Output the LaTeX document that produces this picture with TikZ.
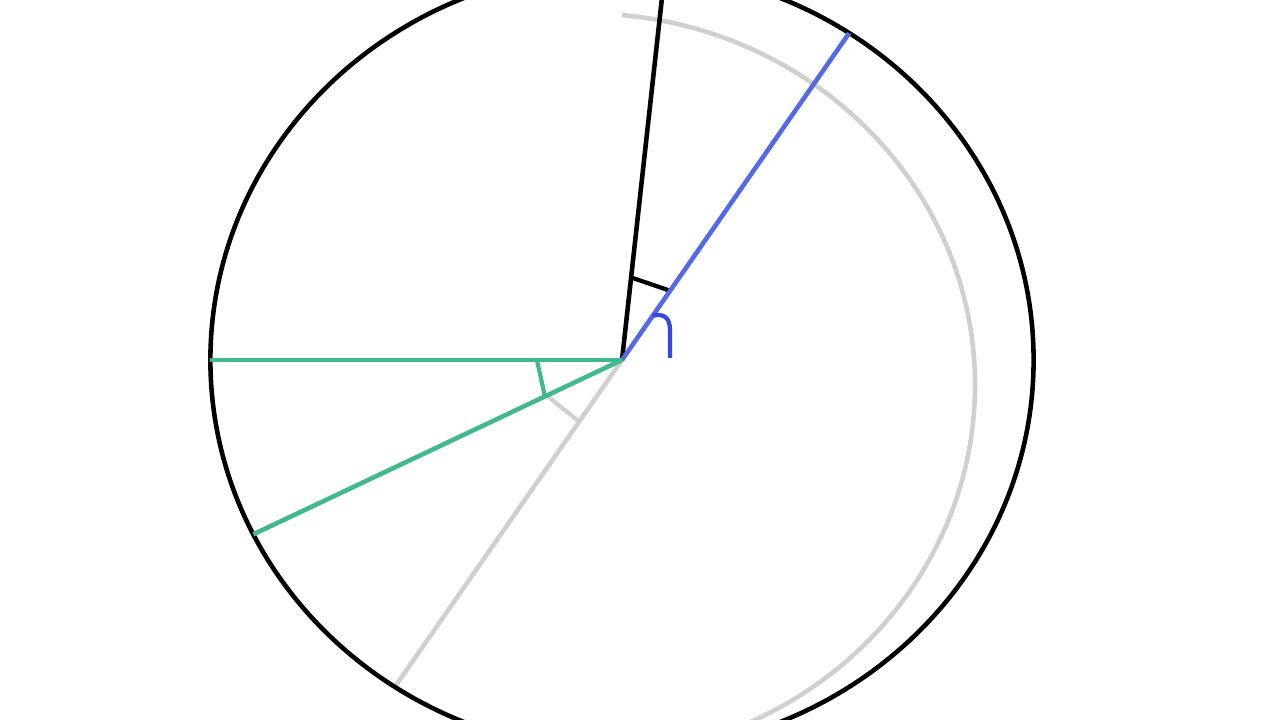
\documentclass[tikz,border=0pt]{standalone}
\definecolor{lineblue}{RGB}{85,105,230}
\definecolor{markblue}{RGB}{55,70,230}
\definecolor{linegreen}{RGB}{65,185,140}
\definecolor{linegray}{RGB}{208,208,208}
\begin{document}
\begin{tikzpicture}[line width=1.3pt, anglemark/.style={line width=1.2pt}]
	% frame of the picture - 16:9
	\useasboundingbox (-6.22,-3.6) rectangle (6.58,3.6);
	\clip (-6.22,-3.6) rectangle (6.58,3.6);
	\begin{scope}[xscale=1.05]
	\coordinate (O) at (0,0);
	% grey arc - must be drawn before the rest!
	\draw[linegray] (-0.358,-0.253) ++(84.5:3.72) arc (84.5:-100:3.72);
	% grey ray, the blue one continued
	\draw[linegray] (O) -- (236.5:3.92);
	\draw[linegray,anglemark] (206.4:0.80) -- (236.5:0.74);
	% the circle
	\draw (O) circle (3.92);
	% black ray
	\draw (O) -- (84:3.92);
	\draw[anglemark] (84:0.83) -- (56.5:0.83);
	% blue ray
	\draw[lineblue] (O) -- (56.5:3.92);
	\draw[markblue,anglemark] (56.5:0.53) .. controls (0.40,0.47) and (0.457,0.42) .. (0.457,0.30) -- (0.457,0.02);
	% green rays
	\draw[linegreen] (O) -- (180:3.92);
	\draw[linegreen] (O) -- (206.4:3.92);
	\draw[linegreen,anglemark] (180:0.81) -- (206.4:0.82);
	\end{scope}
\end{tikzpicture}
\end{document}
